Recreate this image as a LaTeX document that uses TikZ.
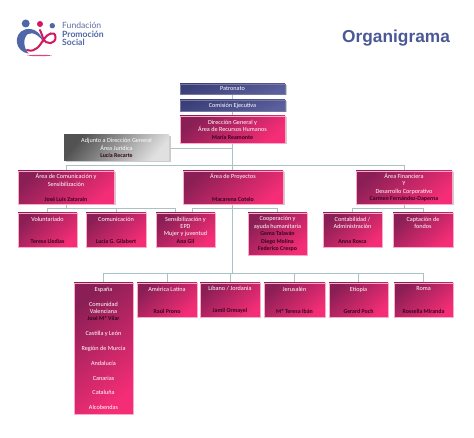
\documentclass[tikz,border=0pt]{standalone}
\usepackage{fontspec}
\setmainfont{Carlito}
\newfontfamily\headfont{Liberation Sans}
\newfontfamily\logofont{Lato}
\pgfdeclarelayer{bg}
\pgfsetlayers{bg,main}
\definecolor{pkA}{HTML}{8A1F55}
\definecolor{pkM}{HTML}{CE2664}
\definecolor{pkB}{HTML}{F42D76}
\definecolor{nameC}{HTML}{33061C}
\definecolor{lineC}{HTML}{A9C2C6}
\definecolor{blueA}{HTML}{3A3F78}
\definecolor{blueB}{HTML}{5B609E}
\definecolor{logoB}{HTML}{4F67A8}
\definecolor{logoP}{HTML}{D2185F}
\definecolor{titleC}{HTML}{4A5896}
\tikzset{
 x=1pt,y=-1pt,
 boxbase/.style={inner sep=0pt,outer sep=0pt,align=center,text=white,
   font=\fontsize{6.2}{7.4}\selectfont},
 pinkbox/.style={boxbase,draw=pkB!40!white,line width=.25pt,top color=pkA,middle color=pkM,bottom color=pkB,shading angle=40},
 bluebox/.style={boxbase,top color=blueA,bottom color=blueB,shading angle=20,draw=blueA!70!white,line width=.25pt},
 graybox/.style={boxbase,top color=black!68,middle color=black!50,bottom color=black!12,shading angle=50},
 shadowbox/.style={fill=black!20,draw=none},
 conn/.style={draw=lineC,line width=.7pt}
}
\newcommand{\nmx}[1]{\textbf{\textcolor{nameC}{\fontsize{5.9}{7.4}\selectfont #1}}}
\newcommand{\bx}[6]{% style, name, x1, y1, x2, y2 -- text follows
 \node[#1,minimum width=#5pt-#3pt,minimum height=#6pt-#4pt] (#2) at ({(#3+#5)/2},{(#4+#6)/2})}
\newcommand{\shd}[4]{\fill[shadowbox] (#1+1.5,#2+1.5) rectangle (#3+1.5,#4+1.5);}
\begin{document}
\begin{tikzpicture}
\useasboundingbox (0,0) rectangle (474,438);
% shadows
\shd{180}{84}{285}{94}
\shd{180}{100}{285}{111}
\shd{180}{116}{285}{143}
\shd{64}{135}{169}{161}
\shd{18}{171}{114}{204}
\shd{183}{171}{283}{204}
\shd{356}{171}{452}{204}
% top
\bx{bluebox}{pat}{180}{84}{285}{94} {Patronato};
\bx{bluebox}{cej}{180}{100}{285}{111} {Comisión Ejecutiva};
\bx{pinkbox}{dir}{180}{116}{285}{143} {Dirección General y\\Área de Recursos Humanos\\\nmx{María Reamonte}};
\bx{graybox}{adj}{64}{135}{169}{161} {Adjunto a Dirección General\\Área Jurídica\\\nmx{Lucía Recarte}};
% areas
\bx{pinkbox}{acom}{18}{171}{114}{204} {Área de Comunicación y\\Sensibilización\\~\\\nmx{José Luis Zatarain}};
\bx{pinkbox}{apro}{183}{171}{283}{204} {Área de Proyectos\\~\\~\\\nmx{Macarena Cotelo}};
\bx{pinkbox}{afin}{356}{171}{452}{204} {Área Financiera\\Y\\Desarrollo Corporativo\\\nmx{Carmen Fernández-Daperna}};
% row 2
\bx{pinkbox}{vol}{18}{213}{77}{247} {Voluntariado\\~\\~\\\nmx{Teresa Lledias}};
\bx{pinkbox}{cmn}{86}{213}{146}{247} {Comunicación\\~\\~\\\nmx{Lucía G. Gilabert}};
\bx{pinkbox}{sen}{156}{213}{215}{247} {Sensibilización y\\EPD\\Mujer y juventud\\\nmx{Ana Gil}};
\bx{pinkbox}{coo}{248}{213}{307}{255} {Cooperación y\\ayuda humanitaria\\\nmx{Gema Talaván}\\\nmx{Diego Molina}\\\nmx{Federico Crespo}};
\bx{pinkbox}{con}{323}{213}{382}{247} {Contabilidad /\\Administración\\~\\\nmx{Anna Rosca}};
\bx{pinkbox}{cap}{393}{213}{453}{247} {Captación de\\fondos\\~\\~};
% row 3
\bx{pinkbox}{esp}{74}{283}{133}{414} {España\\~\\Comunidad\\Valenciana\\\nmx{José Mª Vilar}\\~\\Castilla y León\\~\\Región de Murcia\\~\\Andalucía\\~\\Canarias\\~\\Cataluña\\~\\Alcobendas};
\bx{pinkbox}{ame}{137}{283}{197}{317} {América Latina\\~\\~\\\nmx{Raúl Prono}};
\bx{pinkbox}{lib}{200}{283}{260}{317} {Líbano / Jordania\\~\\~\\\nmx{Jamil Ormayel}};
\bx{pinkbox}{jer}{264}{283}{325}{317} {Jerusalén\\~\\~\\\nmx{Mª Teresa Ibán}};
\bx{pinkbox}{eti}{329}{283}{388}{317} {Etiopía\\~\\~\\\nmx{Gerard Poch}};
\bx{pinkbox}{rom}{394}{283}{453}{317} {Roma\\~\\~\\\nmx{Rossella Miranda}};
% junctions
\coordinate (jtop) at (232.5,165);
\coordinate (jbot) at (232.5,273);
\coordinate (jsen) at (175,213);
\coordinate (jsp) at (192,213);
\begin{pgfonlayer}{bg}
\draw[conn] (pat) -- (cej);
\draw[conn] (cej) -- (dir);
\draw[conn] (dir.south) -- (jbot);
\draw[conn] (adj.east) -- (adj.east -| dir.south);
\draw[conn] (acom.north) |- (jtop);
\draw[conn] (afin.north) |- (jtop);
\draw[conn] (apro.north) -- (jtop);
\draw[conn] (vol.north) |- (acom.south |- 0,208) coordinate (h1);
\draw[conn] (h1) -- (jsen |- h1) -- (jsen);
\draw[conn] (acom.south) -- (h1);
\draw[conn] (cmn.north) -- (cmn.north |- h1);
\draw[conn] (jsp) -- (jsp |- h1) -| (coo.north);
\draw[conn] (con.north) |- (cap.north |- h1) -- (cap.north);
\draw[conn] (afin.south) -- (afin.south |- h1);
\draw[conn] (esp.north) |- (rom.north |- jbot) -- (rom.north);
\draw[conn] (ame.north) -- (ame.north |- jbot);
\draw[conn] (lib.north) -- (lib.north |- jbot);
\draw[conn] (jer.north) -- (jer.north |- jbot);
\draw[conn] (eti.north) -- (eti.north |- jbot);
\end{pgfonlayer}
% title
\node[inner sep=0pt,anchor=base west,text=titleC,font=\headfont\fontsize{17.3}{20}\selectfont\bfseries] (ttl) at (342,42.5) {Organigrama};
% logo
\fill[logoB] (25.7,23.5) circle (4);
\fill[logoP] (40,24) circle (3);
\fill[logoB] (52.3,25.7) circle (2.7);
\fill[logoB] (25,29.5) .. controls (13,33) and (14,52) .. (29,53.5) .. controls (24,50) and (22,38) .. (28,34) .. controls (33,31) and (41,37) .. (44,43) .. controls (41,33) and (34,27) .. (25,29.5) -- cycle;
\draw[logoP,line width=2pt,line cap=round] (27,50) .. controls (36,53) and (40,45) .. (44,39) .. controls (47,34) and (55,30) .. (55.5,37) .. controls (56,44) and (46,46) .. (43,38) .. controls (42,35) and (41,32) .. (40,30);
\fill[logoP!80] (27,55.5) .. controls (35,54.5) and (45,54.5) .. (52,55.5) .. controls (45,56.5) and (35,56.5) .. (27,55.5) -- cycle;
\node[inner sep=0pt,anchor=base west,text=logoB!70!gray,font=\logofont\fontsize{8.6}{9}\selectfont] (lg1) at (62,29) {Fundación};
\node[inner sep=0pt,anchor=base west,text=logoB,font=\logofont\fontsize{8.6}{9}\selectfont\bfseries] (lg2) at (62,37.5) {Promoción};
\node[inner sep=0pt,anchor=base west,text=logoB,font=\logofont\fontsize{8.6}{9}\selectfont\bfseries] (lg3) at (62,46) {Social};
\end{tikzpicture}
\end{document}
